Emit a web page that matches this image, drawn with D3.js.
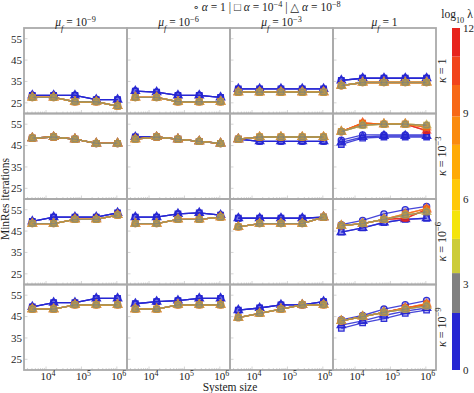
<!DOCTYPE html>
<html>
<head>
<meta charset="utf-8">
<script src="https://cdn.jsdelivr.net/npm/d3@7"></script>
<style>
  body { margin: 0; background: #fff; }
  svg text { font-family: "Liberation Serif", "DejaVu Serif", serif; fill: #222; }
</style>
</head>
<body>
<svg id="chart" width="474" height="393"></svg>
<script>
// system sizes (x) and axis ticks
const sizes = [4096, 16384, 65536, 262144, 1048576];
const xTicks = [1e4, 1e5, 1e6];
const yTicks = [25, 35, 45, 55];
const muExp = ['−9', '−6', '−3', null];
const kappaExp = [null, '−3', '−6', '−9'];
const alphaShapes = [d3.symbolCircle, d3.symbolSquare, d3.symbolTriangle];
const lambdaTicks = [0, 3, 6, 9, 12];
const bandEdges = [0, 2, 3.4, 4.6, 5.6, 6.7, 7.9, 8.9, 10, 11, 12];
const bandColors = ['#2626d2', '#808080', '#cccc3a', '#f4e40c', '#ffc808', '#ffaa06', '#fa8a0e', '#f76816', '#f1441b', '#e7241d'];
// drawing order of lambda values (bottom to top)
const lambdaOrder = [0, 12, 9, 6, 3];

const ALL = [0, 1, 2];
const NZ = [3, 6, 9, 12];

// iterations per panel: lam = log10 lambda values, a = alpha indices, v = iterations
const kappa1 = [
  [{ lam: [0], a: ALL, v: [28.5, 28.5, 28.5, 26.5, 26.5] }, { lam: NZ, a: ALL, v: [27.5, 27.5, 25.5, 25.5, 23.5] }],
  [{ lam: [0], a: ALL, v: [30.5, 30, 28.5, 28.5, 27.5] }, { lam: NZ, a: ALL, v: [27.5, 27.5, 25.5, 25.5, 25.5] }],
  [{ lam: [0], a: ALL, v: [31.5, 31.5, 31.5, 31.5, 31.5] }, { lam: NZ, a: ALL, v: [30, 30, 30, 30, 30] }],
  [{ lam: [0], a: ALL, v: [35.5, 36.5, 36.5, 36.5, 36.5] }, { lam: NZ, a: ALL, v: [33, 34.5, 34.5, 34.5, 34.5] }],
];
const kappa1e3 = [
  [{ lam: [0], a: ALL, v: [48.5, 49, 48, 46, 46] }, { lam: NZ, a: ALL, v: [48.5, 49, 48, 46, 46] }],
  [{ lam: [0], a: ALL, v: [49, 49, 48, 47, 46] }, { lam: NZ, a: ALL, v: [48, 49, 48, 47, 46] }],
  [{ lam: [0], a: ALL, v: [48, 47, 47, 47, 47] }, { lam: NZ, a: ALL, v: [48, 49, 49, 49, 49] }],
  [{ lam: [0], a: [0], v: [47.5, 50, 50, 50, 50] }, { lam: [0], a: [1], v: [45.5, 48.5, 49, 49, 49] },
   { lam: [0], a: [2], v: [46.5, 49, 49.5, 49.5, 49.5] },
   { lam: [12], a: ALL, v: [51.5, 55.5, 55, 55, 52] }, { lam: [9], a: ALL, v: [51.5, 55.5, 55, 55, 53.5] },
   { lam: [3, 6], a: ALL, v: [51.5, 54.5, 55, 55, 54.5] }],
];
const kappa1e6 = [
  [{ lam: [0], a: ALL, v: [49.5, 51.5, 51.5, 51.5, 53.5] }, { lam: NZ, a: ALL, v: [48.5, 48.5, 50.5, 50.5, 52.5] }],
  [{ lam: [0], a: ALL, v: [51.5, 51.5, 53, 53.5, 52.5] }, { lam: NZ, a: ALL, v: [48.5, 48.5, 50.5, 50.5, 51.5] }],
  [{ lam: [0], a: ALL, v: [51, 51, 51, 51, 51.5] }, { lam: NZ, a: ALL, v: [47, 48.5, 48.5, 48.5, 51.5] }],
  [{ lam: [0], a: [0], v: [48, 50, 53, 55, 56.5] }, { lam: [0], a: [1, 2], v: [44.5, 46.5, 49, 50.5, 51] },
   { lam: [12], a: ALL, v: [47.5, 48.5, 50.5, 51, 55] }, { lam: [9], a: ALL, v: [47.5, 48.5, 50.5, 53, 55.5] },
   { lam: [3, 6], a: ALL, v: [47.5, 48.5, 50.5, 52.5, 54] }],
];
const kappa1e9 = [
  [{ lam: [0], a: ALL, v: [49.5, 51.5, 51.5, 53.5, 53.5] }, { lam: NZ, a: ALL, v: [48.5, 48.5, 50.5, 50.5, 50.5] }],
  [{ lam: [0], a: ALL, v: [51, 52, 52.5, 53.5, 53.5] }, { lam: NZ, a: ALL, v: [48.5, 48.5, 50.5, 50.5, 50.5] }],
  [{ lam: [0], a: ALL, v: [48, 49, 50.5, 50.5, 52] }, { lam: NZ, a: ALL, v: [44.5, 46.5, 48.5, 50.5, 50.5] }],
  [{ lam: [0], a: [0], v: [43.5, 45.5, 48.5, 50.5, 52.5] }, { lam: [0], a: [1], v: [39.5, 42, 44, 46.5, 48] },
   { lam: [0], a: [2], v: [41, 43, 45.5, 47.5, 49] },
   { lam: [12], a: ALL, v: [43, 45, 47, 49, 50.5] }, { lam: [9], a: ALL, v: [43, 45, 47, 49, 51] },
   { lam: [3, 6], a: ALL, v: [43, 45, 47, 48.5, 50] }],
];
const rows = [kappa1, kappa1e3, kappa1e6, kappa1e9];

const svg = d3.select('#chart');
const panelLeft = 24, panelTop = 28, pw = 103, ph = 85.5;

const x = d3.scaleLog().domain([2384, 1.936e6]).range([0, pw]);
const y = d3.scaleLinear().domain([20, 60]).range([ph, 0]);
const color = d3.scaleThreshold().domain(bandEdges.slice(1, -1)).range(bandColors);
const symbol = d3.symbol().size(30);
const line = d3.line().x((d, i) => x(sizes[i])).y(d => y(d));
const opacity = lam => (lam === 0 ? 0.85 : lam === 3 ? 0.36 : 0.6);

// text with italic / sub / superscript pieces
function supText(sel, parts) {
  parts.forEach(p => {
    const t = sel.append('tspan').text(p.t);
    if (p.sup) t.attr('baseline-shift', 'super').attr('font-size', '0.72em');
    if (p.sub) t.attr('baseline-shift', 'sub').attr('font-size', '0.72em');
    if (p.it) t.attr('font-style', 'italic');
  });
}

rows.forEach((row, r) => {
  row.forEach((entries, c) => {
    const g = svg.append('g').attr('transform', `translate(${panelLeft + c * pw},${panelTop + r * ph})`);

    // minor/major ticks inside frame
    const minor = [];
    for (let e = 3; e <= 6; e++) for (let m = 1; m < 10; m++) {
      const v = m * Math.pow(10, e);
      if (v > x.domain()[0] && v < x.domain()[1]) minor.push(v);
    }
    g.selectAll('.xt').data(minor).enter().append('line')
      .attr('x1', d => x(d)).attr('x2', d => x(d))
      .attr('y1', ph).attr('y2', d => ph - (xTicks.includes(d) ? 3.5 : 2))
      .attr('stroke', '#bbb').attr('stroke-width', 0.6);
    g.selectAll('.yt').data(yTicks).enter().append('line')
      .attr('x1', 0).attr('x2', 3.5).attr('y1', d => y(d)).attr('y2', d => y(d))
      .attr('stroke', '#bbb').attr('stroke-width', 0.6);

    // one series per lambda and alpha
    const series = [];
    entries.forEach(e => e.lam.forEach(l => e.a.forEach(a => series.push({ lam: l, a, v: e.v }))));
    series.sort((p, q) => lambdaOrder.indexOf(p.lam) - lambdaOrder.indexOf(q.lam) || p.a - q.a);

    series.forEach(s => {
      const col = color(s.lam);
      const op = opacity(s.lam);
      g.append('path').attr('d', line(s.v))
        .attr('fill', 'none').attr('stroke', col)
        .attr('stroke-width', 1.3).attr('stroke-opacity', op);
      g.selectAll(null).data(s.v).enter().append('path')
        .attr('d', symbol.type(alphaShapes[s.a])())
        .attr('transform', (d, i) => `translate(${x(sizes[i])},${y(d)})`)
        .attr('fill', col).attr('fill-opacity', s.lam === 0 ? 0.3 : op * 0.6)
        .attr('stroke', col).attr('stroke-width', 1.3).attr('stroke-opacity', s.lam === 0 ? 0.95 : op);
    });

    g.append('rect').attr('width', pw).attr('height', ph)
      .attr('fill', 'none').attr('stroke', '#aaa').attr('stroke-width', 1.8);

    if (c === 0) {
      g.selectAll('.yl').data(yTicks).enter().append('text')
        .attr('x', -2).attr('y', d => y(d)).attr('dy', '0.35em')
        .attr('text-anchor', 'end').attr('font-size', 11).attr('fill', '#333')
        .text(d => d);
    }
    if (r === 3) {
      xTicks.forEach(t => {
        const tx = g.append('text').attr('x', x(t) + 2).attr('y', ph + 10)
          .attr('text-anchor', 'middle').attr('font-size', 11);
        supText(tx, [{ t: '10' }, { t: String(Math.log10(t)), sup: true }]);
      });
    }
  });
});

// column titles
muExp.forEach((e, c) => {
  const t = svg.append('text').attr('x', panelLeft + c * pw + pw / 2).attr('y', 25.5)
    .attr('text-anchor', 'middle').attr('font-size', 11.5);
  supText(t, [{ t: 'μ', it: true }, { t: 'f', it: true, sub: true }, { t: ' = ' }]
    .concat(e ? [{ t: '10' }, { t: e, sup: true }] : [{ t: '1' }]));
});

// row labels on the right
kappaExp.forEach((e, r) => {
  const t = svg.append('text')
    .attr('transform', `translate(${panelLeft + 4 * pw + 10},${panelTop + r * ph + ph / 2}) rotate(-90)`)
    .attr('text-anchor', 'middle').attr('font-size', 12);
  supText(t, [{ t: 'κ', it: true }, { t: ' = ' }].concat(e ? [{ t: '10' }, { t: e, sup: true }] : [{ t: '1' }]));
});

// top legend text
const lg = svg.append('text').attr('x', 267).attr('y', 10.5).attr('text-anchor', 'middle').attr('font-size', 11.5);
supText(lg, [
  { t: '∘ ' }, { t: 'α', it: true }, { t: ' = 1 | □ ' }, { t: 'α', it: true }, { t: ' = 10' }, { t: '−4', sup: true },
  { t: ' | △ ' }, { t: 'α', it: true }, { t: ' = 10' }, { t: '−8', sup: true },
]);

// axis titles
svg.append('text').attr('transform', `translate(9,${panelTop + 2 * ph}) rotate(-90)`)
  .attr('text-anchor', 'middle').attr('font-size', 11.5).text('MinRes iterations');
svg.append('text').attr('x', 230).attr('y', 390.5)
  .attr('text-anchor', 'middle').attr('font-size', 11.5).text('System size');

// colour bar
const cy = d3.scaleLinear().domain([0, 12]).range([panelTop + 4 * ph, panelTop]);
const bands = d3.range(bandColors.length).map(i => ({ lo: bandEdges[i], hi: bandEdges[i + 1], c: bandColors[i] }));
svg.selectAll('.band').data(bands).enter().append('rect')
  .attr('x', 452).attr('width', 8)
  .attr('y', d => cy(d.hi)).attr('height', d => cy(d.lo) - cy(d.hi))
  .attr('fill', d => d.c);
svg.selectAll('.cbl').data(lambdaTicks).enter().append('text')
  .attr('x', 463).attr('y', d => cy(d)).attr('dy', '0.35em')
  .attr('font-size', 11).attr('fill', '#333').text(d => d);
const ct = svg.append('text').attr('x', 457).attr('y', 18).attr('text-anchor', 'middle').attr('font-size', 11.5);
supText(ct, [{ t: 'log' }, { t: '10', sub: true }, { t: ' λ' }]);
</script>
</body>
</html>
